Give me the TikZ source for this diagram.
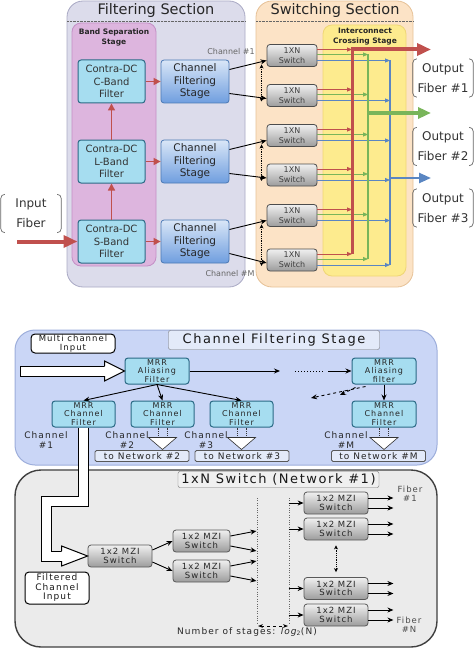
\documentclass[tikz,border=0pt]{standalone}
\usepackage{fontspec}
\setmainfont{DejaVu Sans}
\newfontfamily\widefont[LetterSpace=12]{DejaVu Sans}
\usetikzlibrary{arrows.meta,calc}

\definecolor{lavF}{HTML}{DCDCEB}
\definecolor{lavD}{HTML}{A9A9C4}
\definecolor{bandF}{HTML}{DDB5DE}
\definecolor{bandD}{HTML}{C48FC6}
\definecolor{cdcF}{HTML}{A6DDF0}
\definecolor{cdcD}{HTML}{2B6A86}
\definecolor{cfsT}{HTML}{D9E6F7}
\definecolor{cfsB}{HTML}{6F9EDF}
\definecolor{cfsD}{HTML}{4B79B5}
\definecolor{swF}{HTML}{FCE3C6}
\definecolor{swD}{HTML}{E6C197}
\definecolor{icF}{HTML}{FDEB8E}
\definecolor{icD}{HTML}{EFD676}
\definecolor{fibR}{HTML}{C0504D}
\definecolor{fibG}{HTML}{79B55A}
\definecolor{fibB}{HTML}{5A86C2}
\definecolor{swT}{HTML}{F0F0F0}
\definecolor{swB}{HTML}{9C9C9C}
\definecolor{stgF}{HTML}{CAD6F6}
\definecolor{stgD}{HTML}{9DAEDB}
\definecolor{netF}{HTML}{E3EAF9}
\definecolor{mzF}{HTML}{EBEBEB}

\begin{document}
\begin{tikzpicture}[x=1pt,y=-1pt,
  sect/.style={font=\fontsize{14.5}{16}\selectfont, text=black!85},
  stagelbl/.style={font=\bfseries\fontsize{7.5}{10}\selectfont, align=center, text=black!85},
  cdc/.style={draw=cdcD, fill=cdcF, line width=1pt, rounded corners=3pt, minimum width=67pt, minimum height=43pt, inner sep=1pt, align=center, text=black!80, font=\fontsize{10}{12.5}\selectfont},
  cfs/.style={draw=cfsD, top color=cfsT, bottom color=cfsB, line width=0.8pt, rounded corners=3pt, minimum width=68pt, minimum height=43pt, inner sep=1pt, align=center, text=black!85, font=\fontsize{10.5}{12.5}\selectfont},
  onexn/.style={draw=black!70, top color=swT, bottom color=swB, line width=0.8pt, rounded corners=3pt, minimum width=50pt, minimum height=22pt, inner sep=0pt, align=center, text=black!75, font=\fontsize{8}{10}\selectfont},
  fib/.style={minimum width=60pt, minimum height=38pt, inner sep=0pt, align=center, text=black!80, font=\fontsize{12}{20}\selectfont},
  brk/.style={black!60, line width=0.7pt, rounded corners=4pt},
  chtop/.style={font=\fontsize{8}{9}\selectfont, text=black!60},
  redS/.style={fibR, line width=1.5pt, -{Triangle[length=7pt,width=7pt]}},
  redA/.style={fibR, line width=0.8pt, -{Triangle[length=5pt,width=4pt]}},
  grnA/.style={fibG, line width=0.8pt, -{Triangle[length=5pt,width=4pt]}},
  bluA/.style={fibB, line width=0.8pt, -{Triangle[length=5pt,width=4pt]}},
  redB/.style={fibR, line width=4pt, -{Triangle[length=14pt,width=12pt]}},
  grnB/.style={fibG, line width=3.5pt, -{Triangle[length=13pt,width=11pt]}},
  bluB/.style={fibB, line width=2.5pt, -{Triangle[length=12pt,width=10pt]}},
  blkA/.style={black, line width=0.9pt, -{Stealth[length=6pt,width=5pt]}},
  dotA/.style={black, densely dotted, line width=0.8pt, {Stealth[length=4pt,width=4pt]}-{Stealth[length=4pt,width=4pt]}},
  mrr/.style={draw=cdcD, fill=cdcF, line width=1pt, rounded corners=3pt, minimum width=64pt, minimum height=26pt, inner sep=0pt, align=center, text=black!85, font=\widefont\fontsize{8}{8.7}\selectfont},
  mzi/.style={draw=black!65, top color=swT, bottom color=swB, line width=0.8pt, rounded corners=3pt, minimum height=22pt, inner sep=0pt, align=center, text=black!85, font=\widefont\fontsize{8.5}{8.7}\selectfont},
  ttl/.style={draw=black!55, rounded corners=2pt, inner sep=0pt, text=black!90, font=\widefont\fontsize{13}{14}\selectfont},
  txtbox/.style={draw=black, fill=white, line width=1pt, rounded corners=4pt, inner sep=0pt, align=center, text=black!90},
  net/.style={draw=black!65, fill=netF, line width=0.8pt, rounded corners=1.5pt, minimum width=94pt, minimum height=11pt, inner sep=0pt, text=black!85, font=\widefont\fontsize{9}{9}\selectfont},
  chl/.style={align=center, inner sep=0pt, text=black!85, font=\widefont\fontsize{9}{9.5}\selectfont}
]
\useasboundingbox (0,0) rectangle (474,650);

% ---- filtering and switching sections
\filldraw[fill=lavF, draw=lavD, line width=0.8pt, rounded corners=16pt] (67,1) rectangle (245,287);
\node[sect] (filtT) at (156,11) {Filtering Section};
\draw[densely dotted, black!60] (67,21) -- (245,21);
\filldraw[fill=bandF, draw=bandD, line width=0.8pt, rounded corners=9pt] (72,23) rectangle (156,266);
\node[stagelbl] (bandT) at (114,37) {Band Separation\\Stage};

\filldraw[fill=swF, draw=swD, line width=0.8pt, rounded corners=16pt] (256,1) rectangle (413,287);
\node[sect] (swchT) at (335,11) {Switching Section};
\draw[densely dotted, black!60] (256,21) -- (413,21);
\filldraw[fill=icF, draw=icD, line width=0.8pt, rounded corners=9pt] (323,25) rectangle (406,276);
\node[stagelbl] (icT) at (365,37) {Interconnect\\Crossing Stage};

\node[cdc] (cdcC) at (111.5,81.5) {Contra-DC\\C-Band\\Filter};
\node[cdc] (cdcL) at (111.5,161.5) {Contra-DC\\L-Band\\Filter};
\node[cdc] (cdcS) at (111.5,241.5) {Contra-DC\\S-Band\\Filter};
\node[cfs] (cfsC) at (195,81.5) {Channel\\Filtering\\Stage};
\node[cfs] (cfsL) at (195,161.5) {Channel\\Filtering\\Stage};
\node[cfs] (cfsS) at (195,241.5) {Channel\\Filtering\\Stage};

\draw[redS] (cdcC) -- (cfsC);
\draw[redS] (cdcL) -- (cfsL);
\draw[redS] (cdcS) -- (cfsS);
\draw[redS] (cdcS) -- (cdcL);
\draw[redS] (cdcL) -- (cdcC);

\node[fib] (inF) at (31,213.5) {Input\\Fiber};
\draw[brk] ($(inF.north west)+(4,0)$) -- (inF.north west) -- (inF.south west) -- ($(inF.south west)+(4,0)$);
\draw[brk] ($(inF.north east)+(-4,0)$) -- (inF.north east) -- (inF.south east) -- ($(inF.south east)+(-4,0)$);
\coordinate (inTail) at (17,241.5);
\draw[redB] (inTail) -- (cdcS);

\node[chtop] (ch1) at (231,52) {Channel \#1};
\node[chtop] (chM) at (230,274) {Channel \#M};

\foreach \i/\y in {1/55.5,2/95.5,3/135.5,4/175,5/215.5,6/260}
  \node[onexn] (sw\i) at (292,\y) {1XN\\Switch};

\foreach \c/\a/\b in {cfsC/sw1/sw2,cfsL/sw3/sw4,cfsS/sw5/sw6} {
  \draw[blkA] ($(\c.east)+(0,-12)$) -- ($(\a.west)+(0,5)$);
  \draw[blkA] ($(\c.east)+(0,12)$) -- ($(\b.west)+(0,3)$);
  \draw[dotA] ($(\a.west)+(-5,9)$) -- ($(\b.west)+(-5,6)$);
}

\coordinate (busR) at (352,0);
\coordinate (busG) at (368,0);
\coordinate (busB) at (390,0);
\foreach \i in {1,...,6} {
  \draw[redA] ($(sw\i.east)+(0,-6)$) coordinate (r\i) -- (r\i -| busR);
  \draw[grnA] ($(sw\i.east)+(0,-1)$) coordinate (g\i) -- (g\i -| busG);
  \draw[bluA] ($(sw\i.east)+(0,5)$) coordinate (b\i) -- (b\i -| busB);
}
\draw[fibR, line width=3pt] (r1 -| busR) -- (r6 -| busR);
\draw[fibG, line width=2.5pt] (g1 -| busG) -- (g6 -| busG);
\draw[fibB, line width=2.5pt] (b1 -| busB) -- (b6 -| busB);

\coordinate (rOut) at (431,49.5);
\coordinate (gOut) at (431,113);
\coordinate (bOut) at (431,178);
\draw[redB] ($(r1 -| busR)+(-1.5,0)$) -- (rOut);
\draw[grnB] ($(gOut -| busG)+(-1.25,0)$) -- (gOut);
\draw[bluB] ($(bOut -| busB)+(-1.25,0)$) -- (bOut);

\node[fib] (out1) at (443,78) {Output\\Fiber \#1};
\node[fib] (out2) at (443,146.5) {Output\\Fiber \#2};
\node[fib] (out3) at (443,208) {Output\\Fiber \#3};
\foreach \o in {out1,out2,out3} {
  \draw[brk] ($(\o.north west)+(4,0)$) -- (\o.north west) -- (\o.south west) -- ($(\o.south west)+(4,0)$);
  \draw[brk] ($(\o.north east)+(-4,0)$) -- (\o.north east) -- (\o.south east) -- ($(\o.south east)+(-4,0)$);
}

% ---- channel filtering stage
\filldraw[fill=stgF, draw=stgD, line width=1pt, rounded corners=20pt] (15,330) rectangle (437,465);
\node[ttl, fill=netF, minimum width=211pt, minimum height=19pt] (stgT) at (274,340) {Channel Filtering Stage};
\node[txtbox, minimum width=84pt, minimum height=19pt, font=\widefont\fontsize{8.5}{9.5}\selectfont] (mci) at (73,343.5) {Multi channel\\Input};

\node[mrr] (al1) at (157,371) {MRR\\Aliasing\\Filter};
\node[mrr] (al2) at (384,371) {MRR\\Aliasing\\filter};
\node[mrr, minimum width=63pt] (cf1) at (83.5,414) {MRR\\Channel\\Filter};
\node[mrr, minimum width=63pt] (cf2) at (162.5,414) {MRR\\Channel\\Filter};
\node[mrr, minimum width=63pt] (cf3) at (241.5,414) {MRR\\Channel\\Filter};
\node[mrr] (cfM) at (384,414) {MRR\\Channel\\Filter};

\coordinate (gapL) at (280,371);
\coordinate (gapR) at (328,371);
\draw[blkA] (al1.east) -- (gapL);
\draw[black, line width=1pt, dotted] ($(gapL)+(15,0)$) -- ($(gapR)+(-5,0)$);
\draw[blkA] (gapR) -- (al2.west);
\draw[blkA] (al1.south) -- (cf1.north);
\draw[blkA] (al1.south) -- (cf2.north);
\draw[blkA] (al1.south) -- (cf3.north);
\draw[blkA] (al2.south) -- (cfM.north);
\coordinate (dsh1) at (311,398);
\coordinate (dsh2) at (340,395);
\draw[blkA, dashed] ($(al2.south west)+(14,2)$) -- (dsh1);
\draw[blkA, dashed] ($(al2.south west)+(4,3)$) -- (dsh2);

\node[chl] (lc1) at (46,440) {Channel\\\#1};
\node[chl] (lc2) at (127,440) {Channel\\\#2};
\node[chl] (lc3) at (206,440) {Channel\\\#3};
\node[chl] (lcM) at (346,440) {Channel\\\#M};

\foreach \n in {cf2,cf3,cfM} {
  \draw[black!80, densely dotted, line width=0.9pt] ($(\n.south)+(-4.5,0)$) -- ++(0,11);
  \draw[black!80, densely dotted, line width=0.9pt] ($(\n.south)+(4.5,0)$) -- ++(0,11);
  \filldraw[fill=white, draw=black!80, line width=0.6pt] ($(\n.south)+(-14,10)$) -- ($(\n.south)+(0,22)$) -- ($(\n.south)+(14,10)$) -- cycle;
}
\node[net] (tn2) at (142,456) {to Network \#2};
\node[net] (tn3) at (242,456) {to Network \#3};
\node[net] (tnM) at (378.5,456) {to Network \#M};

% ---- 1xN switch
\filldraw[fill=mzF, draw=black!75, line width=1.4pt, rounded corners=26pt] (15,470) rectangle (437,647);
\node[ttl, fill=swT, minimum width=201pt, minimum height=16pt] (swT) at (278.5,479.5) {1xN Switch (Network \#1)};

\node[mzi, minimum width=64pt] (m1) at (120,556) {1x2 MZI\\Switch};
\node[mzi, minimum width=57pt] (m2a) at (201.5,541) {1x2 MZI\\Switch};
\node[mzi, minimum width=57pt] (m2b) at (201.5,571) {1x2 MZI\\Switch};
\node[mzi, minimum width=64pt] (m3a) at (336,503) {1x2 MZI\\Switch};
\node[mzi, minimum width=64pt] (m3b) at (336,529) {1x2 MZI\\Switch};
\node[mzi, minimum width=64pt] (m3c) at (336,588.5) {1x2 MZI\\Switch};
\node[mzi, minimum width=64pt] (m3d) at (336,615) {1x2 MZI\\Switch};

\draw[blkA] ($(m1.east)+(0,-6)$) -- (m2a.west);
\draw[blkA] ($(m1.east)+(0,6)$) -- (m2b.west);
\foreach \n in {m2a,m2b} {
  \draw[blkA] ($(\n.east)+(0,-5)$) -- ++(26,-5);
  \draw[blkA] ($(\n.east)+(0,5)$) -- ++(26,5);
}
\draw[black!60, dotted] (257,498) -- (257,623);
\draw[black!60, dotted] (289,498) -- (289,623);
\draw[black, dashed, line width=0.8pt, {Stealth[length=5pt]}-{Stealth[length=5pt]}] (258,626) -- (288,626);

\foreach \n in {m3a,m3b,m3c,m3d} {
  \draw[blkA] ($(\n.west)+(-15,0)$) -- (\n.west);
  \draw[blkA] ($(\n.east)+(0,-5)$) -- ++(25,0);
  \draw[blkA] ($(\n.east)+(0,5)$) -- ++(25,0);
}
\draw[dotA] ($(m3b.south)+(0,5)$) -- ($(m3c.north)+(0,-5)$);

\node[chl, text=black!70, font=\widefont\fontsize{8.5}{8.5}\selectfont] (fib1) at (410,494) {Fiber\\\#1};
\node[chl, text=black!70, font=\widefont\fontsize{8.5}{9.5}\selectfont] (fibN) at (409,625) {Fiber\\\#N};

\node[txtbox, minimum width=64pt, minimum height=32pt, font=\widefont\fontsize{9}{9.5}\selectfont] (fci) at (57,588) {Filtered\\Channel\\Input};

\node[chl, font=\widefont\fontsize{9}{10}\selectfont] (nst) at (247,632) {Number of stages: {\itshape log}\textsubscript{2}(N)};

% ---- hollow arrows
\coordinate (mciTail) at (25,371);
\draw[black, line width=11pt, line cap=rect] (mciTail) -- ($(al1.west)+(-20,0)$);
\draw[white, line width=9pt, line cap=rect] (mciTail) -- ($(al1.west)+(-20,0)$);
\fill[white] ($(al1.west)+(-20,-10)$) -- (al1.west) -- ($(al1.west)+(-20,10)$) -- cycle;
\draw[black, line width=1pt] ($(al1.west)+(-20,-5)$) -- ($(al1.west)+(-20,-10)$) -- (al1.west) -- ($(al1.west)+(-20,10)$) -- ($(al1.west)+(-20,5)$);

\coordinate (bend) at (46,501);
\draw[black, line width=11pt, line join=miter] (cf1.south) |- (bend) |- ($(m1.west)+(-26,0)$);
\draw[white, line width=9pt, line join=miter] (cf1.south) |- (bend) |- ($(m1.west)+(-26,0)$);
\fill[white] ($(m1.west)+(-26,-10)$) -- (m1.west) -- ($(m1.west)+(-26,10)$) -- cycle;
\draw[black, line width=1pt] ($(m1.west)+(-26,-5)$) -- ($(m1.west)+(-26,-10)$) -- (m1.west) -- ($(m1.west)+(-26,10)$) -- ($(m1.west)+(-26,5)$);

\end{tikzpicture}
\end{document}
